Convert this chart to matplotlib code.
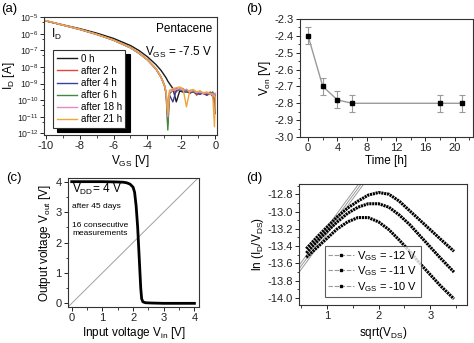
import numpy as np
import matplotlib
matplotlib.use("Agg")
import matplotlib.pyplot as plt
from matplotlib.ticker import MultipleLocator, LogLocator, NullFormatter

plt.rcParams['font.family'] = ['Liberation Sans', 'DejaVu Sans']
plt.rcParams['mathtext.default'] = 'regular'
plt.rcParams['axes.unicode_minus'] = False
plt.rcParams['font.size'] = 8

# (a) transfer curves, log10(I_D) at each gate voltage
vgs = [-10, -9, -8, -7, -6, -5, -4.5, -4, -3.5, -3.2, -3.0, -2.9, -2.8, -2.7, -2.5,
       -2.3, -2.1, -1.9, -1.7, -1.5, -1.3, -1.1, -0.9, -0.7, -0.5, -0.3, -0.15, -0.05, 0]
logi_0h = [-5.22, -5.45, -5.68, -5.95, -6.27, -6.70, -7.0, -7.38, -7.85, -8.2, -8.5, -8.65,
           -8.85, -9.0, -9.3, -10.1, -9.45, -9.5, -9.5, -9.55, -9.5, -9.6, -9.55, -9.6,
           -9.6, -9.65, -9.6, -9.9, -9.6]
logi_2h = [-5.20, -5.46, -5.72, -6.02, -6.37, -6.83, -7.15, -7.55, -8.1, -8.6, -9.1, -9.6,
           -11.5, -9.6, -9.4, -9.5, -9.3, -9.45, -9.35, -9.6, -9.4, -9.7, -9.5, -9.6,
           -9.7, -9.5, -9.8, -10.2, -9.7]
logi_4h = [-5.21, -5.47, -5.73, -6.03, -6.38, -6.84, -7.17, -7.57, -8.12, -8.62, -9.1, -9.55,
           -10.9, -9.7, -10.1, -9.4, -9.35, -9.5, -9.4, -9.55, -9.5, -9.6, -9.65, -9.55,
           -9.7, -9.6, -9.75, -9.9, -10.8]
logi_6h = [-5.21, -5.46, -5.72, -6.02, -6.37, -6.83, -7.16, -7.56, -8.1, -8.6, -9.1, -9.6,
           -11.8, -9.6, -9.35, -9.3, -9.4, -9.3, -9.5, -9.45, -9.5, -9.55, -9.45, -9.6,
           -9.55, -9.6, -9.5, -9.7, -9.9]
logi_18h = [-5.20, -5.46, -5.72, -6.02, -6.37, -6.83, -7.15, -7.55, -8.1, -8.6, -9.1, -9.5,
            -11.0, -9.5, -9.4, -9.35, -9.3, -9.4, -9.35, -9.5, -9.4, -9.55, -9.5, -9.6,
            -9.55, -9.65, -9.6, -9.8, -9.6]
logi_21h = [-5.20, -5.46, -5.72, -6.02, -6.37, -6.83, -7.15, -7.56, -8.1, -8.6, -9.1, -9.5,
            -10.8, -9.4, -9.3, -9.25, -9.2, -9.3, -10.4, -9.4, -9.35, -9.5, -9.45, -9.55,
            -9.5, -9.6, -9.7, -11.6, -9.8]
curve_labels = ['0 h', 'after 2 h', 'after 4 h', 'after 6 h', 'after 18 h', 'after 21 h']
curve_colors = ['#1a1a1a', '#e0463f', '#3c3f9c', '#3f8a3f', '#e48ac8', '#f0a43c']

# (b) onset voltage vs time
time_h = [0, 2, 4, 6, 18, 21]
v_on = [-2.4, -2.7, -2.78, -2.8, -2.8, -2.8]
v_on_err = [0.05, 0.05, 0.05, 0.05, 0.05, 0.05]

# (c) inverter transfer
v_in = [0, 0.5, 1.0, 1.5, 1.7, 1.8, 1.9, 2.0, 2.05, 2.1, 2.15, 2.2, 2.25, 2.28, 2.32,
        2.4, 2.6, 3.0, 3.5, 4.0]
v_out = [4.0, 4.0, 4.0, 3.99, 3.98, 3.96, 3.92, 3.82, 3.65, 3.2, 2.5, 1.5, 0.5, 0.15,
         0.05, 0.02, 0.01, 0.0, 0.0, 0.0]

# (d) Poole-Frenkel plot
sqrt_vds = [0.6, 0.8, 1.0, 1.2, 1.4, 1.6, 1.8, 2.0, 2.2, 2.4, 2.6, 2.8, 3.0, 3.2, 3.46]
ln_12 = [-13.43, -13.30, -13.18, -13.06, -12.96, -12.88, -12.81, -12.78, -12.80, -12.88,
         -12.99, -13.10, -13.21, -13.32, -13.46]
ln_11 = [-13.48, -13.35, -13.23, -13.12, -13.02, -12.95, -12.91, -12.91, -12.95, -13.04,
         -13.15, -13.28, -13.41, -13.54, -13.70]
ln_10 = [-13.53, -13.42, -13.31, -13.20, -13.12, -13.07, -13.07, -13.12, -13.21, -13.33,
         -13.46, -13.60, -13.73, -13.86, -14.01]
vgs_labels = ['$V_{GS}$ = -12 V', '$V_{GS}$ = -11 V', '$V_{GS}$ = -10 V']
fit_x = [0.45, 1.75]
fit_y = [[-13.63, -12.57], [-13.67, -12.61], [-13.71, -12.65]]

fig = plt.figure(figsize=(4.74, 3.43), dpi=100)


def style(ax):
    for s in ax.spines.values():
        s.set_linewidth(0.8)
        s.set_color('#333333')
    ax.tick_params(which='both', direction='out', top=False, right=False,
                   colors='#222222', labelsize=8)
    ax.tick_params(which='major', length=3, width=0.7, pad=1.5)
    ax.tick_params(which='minor', length=1.8, width=0.6)


# ---- (a)
ax = fig.add_axes([0.0928, 0.6064, 0.365, 0.344])
for y, lab, c in zip([logi_0h, logi_2h, logi_4h, logi_6h, logi_18h, logi_21h],
                     curve_labels, curve_colors):
    ax.plot(vgs, 10.0 ** np.array(y), color=c, lw=1.0, label=lab)
ax.set_yscale('log')
ax.set_xlim(-10.1, 0.1)
ax.set_ylim(10 ** -12.1, 10 ** -4.98)
ax.yaxis.set_major_locator(LogLocator(base=10, numticks=10))
ax.yaxis.set_minor_locator(LogLocator(base=10, subs=[5], numticks=10))
ax.yaxis.set_minor_formatter(NullFormatter())
ax.xaxis.set_major_locator(MultipleLocator(2))
ax.xaxis.set_minor_locator(MultipleLocator(1))
style(ax)
ax.tick_params(axis='y', labelsize=6.3, pad=0.8)
ax.set_xlabel('$V_{GS}$ [V]', fontsize=8.5, labelpad=1)
ax.set_ylabel('$I_D$ [A]', fontsize=8.5)
ax.yaxis.set_label_coords(-0.155, 0.5)
ax.text(0.04, 0.92, '$I_D$', transform=ax.transAxes, fontsize=8.5, va='top')
ax.text(0.97, 0.9, 'Pentacene', transform=ax.transAxes, fontsize=8.5, ha='right', va='center')
ax.text(0.97, 0.7, '$V_{GS}$ = -7.5 V', transform=ax.transAxes, fontsize=8.5,
        ha='right', va='center')
leg = ax.legend(loc='lower left', bbox_to_anchor=(0.025, 0.02), fontsize=7,
                frameon=True, fancybox=False, handlelength=2.1, handletextpad=0.4,
                labelspacing=0.22, borderpad=0.35,
                shadow={'color': 'black', 'alpha': 1.0, 'ox': 3, 'oy': -3})
leg.get_frame().set_edgecolor('#333333')
leg.get_frame().set_linewidth(0.8)
fig.text(0.002, 0.975, '(a)', fontsize=9.5, va='center')

# ---- (b)
ax = fig.add_axes([0.633, 0.6006, 0.365, 0.344])
ax.errorbar(time_h, v_on, yerr=v_on_err, color='#9a9a9a', lw=1.0, ecolor='#9a9a9a',
            elinewidth=0.8, capsize=2.2, capthick=0.8, marker='s', ms=3.5,
            mfc='black', mec='black', zorder=3)
ax.set_xlim(-1.1, 22.5)
ax.set_ylim(-3.0, -2.3)
ax.xaxis.set_major_locator(MultipleLocator(4))
ax.xaxis.set_minor_locator(MultipleLocator(2))
ax.yaxis.set_major_locator(MultipleLocator(0.1))
ax.yaxis.set_minor_locator(MultipleLocator(0.05))
ax.yaxis.set_major_formatter(plt.FormatStrFormatter('%.1f'))
style(ax)
ax.set_xlabel('Time [h]', fontsize=8.5, labelpad=1)
ax.set_ylabel('$V_{on}$ [V]', fontsize=8.5, labelpad=1)
fig.text(0.52, 0.975, '(b)', fontsize=9.5, va='center')

# ---- (c)
ax = fig.add_axes([0.1435, 0.105, 0.2764, 0.376])
ax.plot([-0.2, 4.3], [-0.2, 4.3], color='#a0a0a0', lw=0.7)
ax.plot(v_in, v_out, color='black', lw=2.0)
ax.set_xlim(-0.12, 4.15)
ax.set_ylim(-0.12, 4.12)
ax.xaxis.set_major_locator(MultipleLocator(1))
ax.xaxis.set_minor_locator(MultipleLocator(0.5))
ax.yaxis.set_major_locator(MultipleLocator(1))
ax.yaxis.set_minor_locator(MultipleLocator(0.5))
style(ax)
ax.set_xlabel('Input voltage $V_{in}$ [V]', fontsize=8.5, labelpad=1)
ax.set_ylabel('Output voltage $V_{out}$ [V]', fontsize=8.5, labelpad=2)
ax.text(0.03, 0.97, '$V_{DD}$= 4 V', transform=ax.transAxes, fontsize=8.5, va='top')
ax.text(0.03, 0.78, 'after 45 days', transform=ax.transAxes, fontsize=6, va='center')
ax.text(0.03, 0.6, '16 consecutive\nmeasurements', transform=ax.transAxes, fontsize=6,
        va='center', linespacing=1.3)
fig.text(0.012, 0.48, '(c)', fontsize=9.5, va='center')

# ---- (d)
ax = fig.add_axes([0.631, 0.111, 0.354, 0.353])
for fy in fit_y:
    ax.plot(fit_x, fy, color='#9a9a9a', lw=0.7)
for y, lab in zip([ln_12, ln_11, ln_10], vgs_labels):
    ax.plot(sqrt_vds, y, color='black', lw=2.2, ls=(0, (0.7, 0.25)))
    ax.plot([], [], color='#9a9a9a', lw=0.8, ls=(0, (4, 1.5)), marker='s', ms=1.8,
            mfc='black', mec='black', label=lab)
ax.set_xlim(0.46, 3.71)
ax.set_ylim(-14.08, -12.68)
ax.xaxis.set_major_locator(MultipleLocator(1))
ax.xaxis.set_minor_locator(MultipleLocator(0.5))
ax.yaxis.set_major_locator(MultipleLocator(0.2))
ax.yaxis.set_minor_locator(MultipleLocator(0.1))
ax.yaxis.set_major_formatter(plt.FormatStrFormatter('%.1f'))
style(ax)
ax.set_xlabel('sqrt($V_{DS}$)', fontsize=8.5, labelpad=3)
ax.set_ylabel('ln ($I_D$/$V_{DS}$)', fontsize=8.5, labelpad=1)
leg = ax.legend(loc='lower left', bbox_to_anchor=(0.12, 0.02), fontsize=8,
                frameon=True, fancybox=False, handlelength=2.3, handletextpad=0.3,
                labelspacing=0.15, borderpad=0.3)
leg.get_frame().set_edgecolor('#333333')
leg.get_frame().set_linewidth(0.8)
fig.text(0.52, 0.48, '(d)', fontsize=9.5, va='center')

fig.savefig('out.png', dpi=100)
